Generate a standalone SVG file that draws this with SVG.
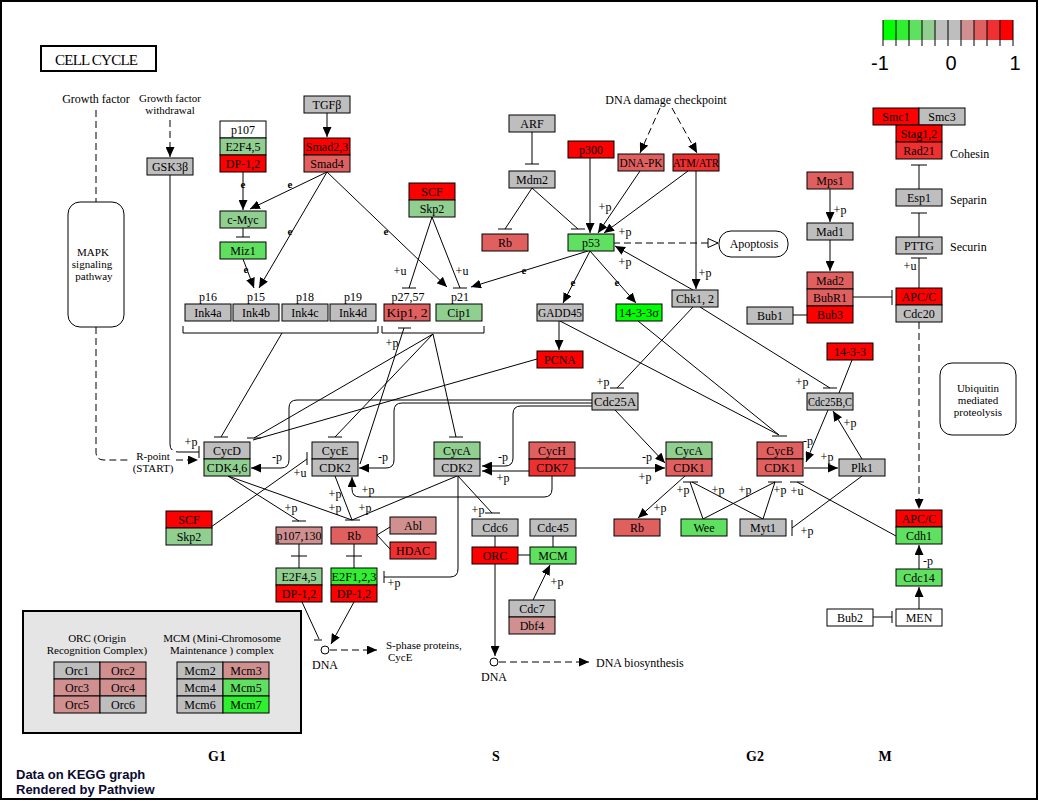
<svg xmlns="http://www.w3.org/2000/svg" width="1039" height="801" viewBox="0 0 1039 801">
<style>
.n{stroke:#000;stroke-width:1}
.t{font-family:"Liberation Serif",serif;font-size:12px;text-anchor:middle;fill:#000}
.l{font-family:"Liberation Serif",serif;font-size:12px;fill:#000}
.m{font-family:"Liberation Serif",serif;font-size:12px;fill:#000;text-anchor:middle}
.s{font-family:"Liberation Serif",serif;font-size:11px;fill:#000;text-anchor:middle}
.c path{fill:none;stroke:#000;stroke-width:1}
.c path.d{stroke-dasharray:7,4}
.e{font-family:"Liberation Serif",serif;font-size:11px;font-weight:bold;text-anchor:middle;fill:#000}
.ph{font-family:"Liberation Serif",serif;font-size:14px;font-weight:bold;text-anchor:middle}
.g0{fill:#00FF00}.g1{fill:#30EE30}.g2{fill:#60E060}.g3{fill:#90CF90}.gy{fill:#BEBEBE}
.r1{fill:#D09090}.r2{fill:#E06060}.r3{fill:#EE3030}.r4{fill:#FF0000}.w{fill:#FFFFFF}
</style>
<defs>
<marker id="a" markerUnits="userSpaceOnUse" markerWidth="10" markerHeight="9" refX="10" refY="4.5" orient="auto"><path d="M0,0L10,4.5L0,9z" fill="#000"/></marker>
<marker id="o" markerUnits="userSpaceOnUse" markerWidth="12" markerHeight="11" refX="11" refY="5.5" orient="auto"><path d="M1,1L11,5.5L1,10z" fill="#fff" stroke="#000"/></marker>
</defs>
<rect x="0" y="0" width="1039" height="801" fill="#fff"/>
<rect x="1" y="1" width="1036" height="798" fill="none" stroke="#000" stroke-width="2"/>

<g id="title"><rect x="41" y="46" width="115" height="25" fill="#fff" stroke="#000" stroke-width="2"/><text x="55" y="65" style="font-family:'Liberation Serif',serif;font-size:15px" textLength="83">CELL CYCLE</text></g>

<g id="legend">
<rect x="883" y="20" width="13" height="20" fill="#00FF00"/><rect x="896" y="20" width="13" height="20" fill="#30EE30"/><rect x="909" y="20" width="13" height="20" fill="#60E060"/><rect x="922" y="20" width="13" height="20" fill="#90CF90"/><rect x="935" y="20" width="13" height="20" fill="#BEBEBE"/><rect x="948" y="20" width="13" height="20" fill="#BEBEBE"/><rect x="961" y="20" width="13" height="20" fill="#D09090"/><rect x="974" y="20" width="13" height="20" fill="#E06060"/><rect x="987" y="20" width="13" height="20" fill="#EE3030"/><rect x="1000" y="20" width="13" height="20" fill="#FF0000"/>
<path d="M883,20V46M896,20V46M909,20V46M922,20V46M935,20V46M948,20V46M961,20V46M974,20V46M987,20V46M1000,20V46M1013,20V46" stroke="#000" stroke-width="1"/>
<text x="880" y="70" font-family="Liberation Sans,sans-serif" font-size="20" text-anchor="middle">-1</text>
<text x="951" y="70" font-family="Liberation Sans,sans-serif" font-size="20" text-anchor="middle">0</text>
<text x="1015" y="70" font-family="Liberation Sans,sans-serif" font-size="20" text-anchor="middle">1</text>
</g>

<g id="connectors" class="c">
<path class="d" d="M96,110V202"/>
<path class="d" d="M170,120V157" marker-end="url(#a)"/>
<path class="d" d="M96,327V452Q96,460 104,460H130"/>
<path class="d" d="M176,460H198" marker-end="url(#a)"/>
<path d="M170,175V444Q170,452 178,452H199M199,446V458"/>
<path d="M327,113V137" marker-end="url(#a)"/>
<path d="M243,172V210" marker-end="url(#a)"/>
<path d="M327,172L250,209" marker-end="url(#a)"/>
<path d="M243,227V237M236,237H250"/>
<path d="M243,259L254,288" marker-end="url(#a)"/>
<path d="M327,172L259,288" marker-end="url(#a)"/>
<path d="M327,172L447,287" marker-end="url(#a)"/>
<path d="M432,217L409,288M402,288H416"/>
<path d="M432,217L460,288M453,288H467"/>
<path d="M588,251L471,287" marker-end="url(#a)"/>
<path d="M532,132V164M525,164H539"/>
<path d="M532,188L505,229M498,229H512"/>
<path d="M532,188L578,229M571,229H585"/>
<path d="M590,158V233" marker-end="url(#a)"/>
<path d="M640,171L598,233" marker-end="url(#a)"/>
<path d="M688,171L604,233" marker-end="url(#a)"/>
<path class="d" d="M660,108L640,153" marker-end="url(#a)"/>
<path class="d" d="M672,108L697,153" marker-end="url(#a)"/>
<path d="M696,171V289" marker-end="url(#a)"/>
<path d="M693,290L615,246" marker-end="url(#a)"/>
<path class="d" d="M613,243H718" marker-end="url(#o)"/>
<path d="M590,251L563,303" marker-end="url(#a)"/>
<path d="M590,251L636,303" marker-end="url(#a)"/>
<path d="M559,321V350" marker-end="url(#a)"/>
<path d="M560,321L779,435M638,321L779,435M772,436H787"/>
<path d="M693,307L617,388M610,388H624"/>
<path d="M700,307L830,388M823,388H837"/>
<path d="M852,360L839,393"/>
<path d="M537,359L253,440"/>
<path d="M183,326V333H378V326M382,326V333H484V326"/>
<path d="M282,333L221,437M214,437H228"/>
<path d="M433,334L254,438M247,438H261"/>
<path d="M433,334L335,437M328,437H342"/>
<path d="M433,334L456,437M449,437H463"/>
<path d="M360,464L404,328M398,328H411"/>
<path d="M592,400H297Q289,400 289,408V460Q289,468 281,468H251" marker-end="url(#a)"/>
<path d="M592,403H402Q394,403 394,411V460Q394,468 386,468H359" marker-end="url(#a)"/>
<path d="M592,406H521Q513,406 513,414V458Q513,466 505,466H482" marker-end="url(#a)"/>
<path d="M615,410L665,463" marker-end="url(#a)"/>
<path d="M529,471H482" marker-end="url(#a)"/>
<path d="M575,468H665" marker-end="url(#a)"/>
<path d="M552,476V489Q552,497 544,497H360Q352,497 352,489V477" marker-end="url(#a)"/>
<path d="M211,527L307,459M307,452V465"/>
<path d="M228,476L299,521M292,521H306"/>
<path d="M228,476L352,520M335,476L352,520M457,476L352,520M345,520H360"/>
<path d="M458,476L492,513M485,513H500"/>
<path d="M458,476V569Q458,577 450,577H384M384,571V583"/>
<path d="M377,535L390,527M377,535L390,549"/>
<path d="M299,544V568M291,556H307"/>
<path d="M354,544V568M346,556H362"/>
<path d="M302,602L319,639M314,640H322"/>
<path d="M354,602L331,644" marker-end="url(#a)"/>
<path class="d" d="M330,650H377" marker-end="url(#a)"/>
<path d="M495,564V656" marker-end="url(#a)"/>
<path class="d" d="M499,662H589" marker-end="url(#a)"/>
<path d="M495,536V547M553,536V547M518,555H530"/>
<path d="M533,600L550,565" marker-end="url(#a)"/>
<path d="M685,476L638,518" marker-end="url(#a)"/>
<path d="M703,519L690,482M763,519L692,482M683,482H698"/>
<path d="M703,519L775,482M763,519L775,482M768,482H782"/>
<path d="M896,536L797,482M790,482H804"/>
<path d="M804,468H838" marker-end="url(#a)"/>
<path d="M862,459L833,411" marker-end="url(#a)"/>
<path d="M828,410L806,462" marker-end="url(#a)"/>
<path d="M862,476L792,528M792,520V536"/>
<path class="d" d="M919,322V509" marker-end="url(#a)"/>
<path d="M919,569V545" marker-end="url(#a)"/>
<path d="M919,609V587" marker-end="url(#a)"/>
<path d="M873,617H892M892,611V623"/>
<path d="M919,189V165M911,165H927"/>
<path d="M919,237V213M911,213H927"/>
<path d="M919,288V258M911,258H927"/>
<path d="M853,297H892M892,290V305"/>
<path d="M792,315H807"/>
<path d="M830,239V271" marker-end="url(#a)"/>
<path d="M830,189V222" marker-end="url(#a)"/>
<circle cx="325" cy="650" r="4" fill="#fff" stroke="#000"/>
<circle cx="494" cy="662" r="4" fill="#fff" stroke="#000"/>
</g>

<g id="edge-labels">
<text class="e" x="243" y="188">e</text><text class="e" x="290" y="188">e</text><text class="e" x="246" y="273">e</text><text class="e" x="290" y="235">e</text><text class="e" x="386" y="235">e</text><text class="e" x="524" y="274">e</text><text class="e" x="573" y="286">e</text><text class="e" x="617" y="286">e</text>
<text class="m" x="605" y="211">+p</text><text class="m" x="625" y="236">+p</text><text class="m" x="625" y="266">+p</text><text class="m" x="705" y="277">+p</text><text class="m" x="840" y="214">+p</text><text class="m" x="603" y="386">+p</text><text class="m" x="802" y="386">+p</text><text class="m" x="392" y="347">+p</text><text class="m" x="191" y="446">+p</text><text class="m" x="291" y="512">+p</text><text class="m" x="335" y="498">+p</text><text class="m" x="335" y="512">+p</text><text class="m" x="365" y="512">+p</text><text class="m" x="368" y="494">+p</text><text class="m" x="478" y="514">+p</text><text class="m" x="394" y="587">+p</text><text class="m" x="503" y="482">+p</text><text class="m" x="645" y="481">+p</text><text class="m" x="557" y="586">+p</text><text class="m" x="660" y="512">+p</text><text class="m" x="683" y="494">+p</text><text class="m" x="718" y="494">+p</text><text class="m" x="745" y="494">+p</text><text class="m" x="780" y="494">+p</text><text class="m" x="827" y="461">+p</text><text class="m" x="850" y="427">+p</text><text class="m" x="807" y="535">+p</text>
<text class="m" x="277" y="461">-p</text><text class="m" x="383" y="461">-p</text><text class="m" x="503" y="461">-p</text><text class="m" x="647" y="461">-p</text><text class="m" x="808" y="445">-p</text><text class="m" x="928" y="565">-p</text>
<text class="m" x="400" y="275">+u</text><text class="m" x="462" y="275">+u</text><text class="m" x="300" y="477">+u</text><text class="m" x="910" y="270">+u</text><text class="m" x="797" y="495">+u</text>
</g>

<g id="texts">
<text class="m" x="96" y="103">Growth factor</text>
<text class="s" x="170" y="102">Growth factor</text><text class="s" x="170" y="114">withdrawal</text>
<text class="m" x="666" y="104">DNA damage checkpoint</text>
<text class="l" x="950" y="158">Cohesin</text><text class="l" x="950" y="204">Separin</text><text class="l" x="950" y="251">Securin</text>
<rect x="130" y="450" width="46" height="24" fill="#fff"/>
<text class="s" x="153" y="460">R-point</text><text class="s" x="153" y="472">(START)</text>
<text class="m" x="208" y="301">p16</text><text class="m" x="256" y="301">p15</text><text class="m" x="305" y="301">p18</text><text class="m" x="353" y="301">p19</text>
<text class="m" x="408" y="301">p27,57</text><text class="m" x="460" y="301">p21</text>
<text class="s" x="386" y="649" style="text-anchor:start">S-phase proteins,</text><text class="s" x="388" y="661" style="text-anchor:start">CycE</text>
<text class="l" x="596" y="667">DNA biosynthesis</text>
<text class="m" x="325" y="669">DNA</text><text class="m" x="494" y="681">DNA</text>
<text class="ph" x="217" y="761">G1</text><text class="ph" x="496" y="761">S</text><text class="ph" x="755" y="761">G2</text><text class="ph" x="885" y="761">M</text>
<text x="16" y="779" font-family="Liberation Sans,sans-serif" font-size="13" font-weight="bold" fill="#0a0a30">Data on KEGG graph</text>
<text x="16" y="794" font-family="Liberation Sans,sans-serif" font-size="13" font-weight="bold" fill="#0a0a30">Rendered by Pathview</text>
</g>

<g id="mapk"><rect x="68" y="202" width="56" height="125" rx="12" fill="#fff" stroke="#000"/><text class="s" x="93" y="256">MAPK</text><text class="s" x="92" y="268">signaling</text><text class="s" x="94" y="280">pathway</text></g>
<g id="apoptosis"><rect x="719" y="231" width="69" height="26" rx="12" fill="#fff" stroke="#000"/><text class="m" x="754" y="248">Apoptosis</text></g>
<g id="ubiquitin"><rect x="940" y="363" width="76" height="72" rx="12" fill="#fff" stroke="#000"/><text class="s" x="978" y="392">Ubiquitin</text><text class="s" x="978" y="404">mediated</text><text class="s" x="978" y="416">proteolysis</text></g>

<g id="tgfb"><rect class="n gy" x="304" y="96" width="46" height="17"/><text class="t" x="327" y="109">TGFβ</text></g>
<g id="smad"><rect class="n r4" x="304" y="138" width="46" height="17"/><rect class="n r2" x="304" y="155" width="46" height="17"/><text class="t" x="327" y="151">Smad2,3</text><text class="t" x="327" y="168">Smad4</text></g>
<g id="p107-e2f45-top"><rect class="n w" x="220" y="121" width="46" height="17"/><rect class="n g3" x="220" y="138" width="46" height="17"/><rect class="n r4" x="220" y="155" width="46" height="17"/><text class="t" x="243" y="134">p107</text><text class="t" x="243" y="151">E2F4,5</text><text class="t" x="243" y="168">DP-1,2</text></g>
<g id="gsk3b"><rect class="n gy" x="147" y="158" width="46" height="17"/><text class="t" x="170" y="171">GSK3β</text></g>
<g id="cmyc"><rect class="n g3" x="220" y="211" width="46" height="17"/><text class="t" x="243" y="224">c-Myc</text></g>
<g id="miz1"><rect class="n g2" x="220" y="242" width="46" height="17"/><text class="t" x="243" y="255">Miz1</text></g>
<g id="scf-skp2-top"><rect class="n r4" x="409" y="183" width="46" height="17"/><rect class="n g3" x="409" y="200" width="46" height="17"/><text class="t" x="432" y="196">SCF</text><text class="t" x="432" y="213">Skp2</text></g>
<g id="arf"><rect class="n gy" x="509" y="115" width="46" height="17"/><text class="t" x="532" y="128">ARF</text></g>
<g id="mdm2"><rect class="n gy" x="509" y="171" width="46" height="17"/><text class="t" x="532" y="184">Mdm2</text></g>
<g id="p300"><rect class="n r4" x="568" y="141" width="46" height="17"/><text class="t" x="591" y="154">p300</text></g>
<g id="dnapk"><rect class="n r2" x="618" y="154" width="46" height="17"/><text class="t" x="641" y="167" textLength="43" lengthAdjust="spacingAndGlyphs">DNA-PK</text></g>
<g id="atmatr"><rect class="n r3" x="673" y="154" width="46" height="17"/><text class="t" x="696" y="167" textLength="46" lengthAdjust="spacingAndGlyphs">ATM/ATR</text></g>
<g id="rb-top"><rect class="n r2" x="482" y="234" width="46" height="17"/><text class="t" x="505" y="247">Rb</text></g>
<g id="p53"><rect class="n g2" x="568" y="234" width="46" height="17"/><text class="t" x="591" y="247">p53</text></g>
<g id="ink4a"><rect class="n gy" x="185" y="304" width="46" height="17"/><text class="t" x="208" y="317">Ink4a</text></g>
<g id="ink4b"><rect class="n gy" x="233" y="304" width="46" height="17"/><text class="t" x="256" y="317">Ink4b</text></g>
<g id="ink4c"><rect class="n gy" x="282" y="304" width="46" height="17"/><text class="t" x="305" y="317">Ink4c</text></g>
<g id="ink4d"><rect class="n gy" x="330" y="304" width="46" height="17"/><text class="t" x="353" y="317">Ink4d</text></g>
<g id="kip12"><rect class="n r2" x="384" y="304" width="46" height="17"/><text class="t" x="407" y="317" textLength="41" lengthAdjust="spacingAndGlyphs">Kip1, 2</text></g>
<g id="cip1"><rect class="n g3" x="436" y="304" width="46" height="17"/><text class="t" x="459" y="317">Cip1</text></g>
<g id="gadd45"><rect class="n gy" x="537" y="304" width="46" height="17"/><text class="t" x="560" y="317" textLength="44" lengthAdjust="spacingAndGlyphs">GADD45</text></g>
<g id="s1433sigma"><rect class="n g0" x="616" y="304" width="46" height="17"/><text class="t" x="639" y="317" textLength="40" lengthAdjust="spacingAndGlyphs">14-3-3σ</text></g>
<g id="chk12"><rect class="n gy" x="672" y="290" width="46" height="17"/><text class="t" x="695" y="303">Chk1, 2</text></g>
<g id="pcna"><rect class="n r4" x="537" y="351" width="46" height="17"/><text class="t" x="560" y="364">PCNA</text></g>
<g id="cdc25a"><rect class="n gy" x="592" y="393" width="46" height="17"/><text class="t" x="615" y="406" textLength="42" lengthAdjust="spacingAndGlyphs">Cdc25A</text></g>
<g id="mps1"><rect class="n r2" x="807" y="172" width="46" height="17"/><text class="t" x="830" y="185">Mps1</text></g>
<g id="mad1"><rect class="n gy" x="807" y="223" width="46" height="17"/><text class="t" x="830" y="236">Mad1</text></g>
<g id="mad2-bubr1-bub3"><rect class="n r2" x="807" y="272" width="46" height="17"/><rect class="n r2" x="807" y="289" width="46" height="17"/><rect class="n r4" x="807" y="306" width="46" height="17"/><text class="t" x="830" y="285">Mad2</text><text class="t" x="830" y="302">BubR1</text><text class="t" x="830" y="319">Bub3</text></g>
<g id="bub1"><rect class="n gy" x="747" y="307" width="46" height="17"/><text class="t" x="770" y="320">Bub1</text></g>
<g id="cohesin"><rect class="n r4" x="873" y="108" width="46" height="17"/><rect class="n gy" x="919" y="108" width="46" height="17"/><rect class="n r4" x="896" y="125" width="46" height="17"/><rect class="n r3" x="896" y="142" width="46" height="17"/><text class="t" x="896" y="121">Smc1</text><text class="t" x="942" y="121">Smc3</text><text class="t" x="919" y="138">Stag1,2</text><text class="t" x="919" y="155">Rad21</text></g>
<g id="esp1"><rect class="n gy" x="896" y="189" width="46" height="17"/><text class="t" x="919" y="202">Esp1</text></g>
<g id="pttg"><rect class="n gy" x="896" y="237" width="46" height="17"/><text class="t" x="919" y="250">PTTG</text></g>
<g id="apc-cdc20"><rect class="n r4" x="896" y="288" width="46" height="17"/><rect class="n gy" x="896" y="305" width="46" height="17"/><text class="t" x="919" y="301">APC/C</text><text class="t" x="919" y="318">Cdc20</text></g>
<g id="s1433"><rect class="n r4" x="827" y="343" width="46" height="17"/><text class="t" x="850" y="356">14-3-3</text></g>
<g id="cdc25bc"><rect class="n gy" x="807" y="393" width="46" height="17"/><text class="t" x="830" y="406" textLength="44" lengthAdjust="spacingAndGlyphs">Cdc25B,C</text></g>
<g id="cycd-cdk46"><rect class="n gy" x="204" y="442" width="46" height="17"/><rect class="n g3" x="204" y="459" width="46" height="17"/><text class="t" x="227" y="455">CycD</text><text class="t" x="227" y="472">CDK4,6</text></g>
<g id="cyce-cdk2"><rect class="n gy" x="312" y="442" width="46" height="17"/><rect class="n gy" x="312" y="459" width="46" height="17"/><text class="t" x="335" y="455">CycE</text><text class="t" x="335" y="472">CDK2</text></g>
<g id="cyca-cdk2"><rect class="n g3" x="434" y="442" width="46" height="17"/><rect class="n gy" x="434" y="459" width="46" height="17"/><text class="t" x="457" y="455">CycA</text><text class="t" x="457" y="472">CDK2</text></g>
<g id="cych-cdk7"><rect class="n r2" x="529" y="442" width="46" height="17"/><rect class="n r3" x="529" y="459" width="46" height="17"/><text class="t" x="552" y="455">CycH</text><text class="t" x="552" y="472">CDK7</text></g>
<g id="cyca-cdk1"><rect class="n g3" x="666" y="442" width="46" height="17"/><rect class="n r2" x="666" y="459" width="46" height="17"/><text class="t" x="689" y="455">CycA</text><text class="t" x="689" y="472">CDK1</text></g>
<g id="cycb-cdk1"><rect class="n r2" x="757" y="442" width="46" height="17"/><rect class="n r2" x="757" y="459" width="46" height="17"/><text class="t" x="780" y="455">CycB</text><text class="t" x="780" y="472">CDK1</text></g>
<g id="plk1"><rect class="n gy" x="839" y="459" width="46" height="17"/><text class="t" x="862" y="472">Plk1</text></g>
<g id="scf-skp2-low"><rect class="n r4" x="166" y="511" width="46" height="17"/><rect class="n g3" x="166" y="528" width="46" height="17"/><text class="t" x="189" y="524">SCF</text><text class="t" x="189" y="541">Skp2</text></g>
<g id="p107130"><rect class="n r1" x="276" y="527" width="46" height="17"/><text class="t" x="299" y="540" textLength="45" lengthAdjust="spacingAndGlyphs">p107,130</text></g>
<g id="rb-left"><rect class="n r2" x="331" y="527" width="46" height="17"/><text class="t" x="354" y="540">Rb</text></g>
<g id="abl"><rect class="n r1" x="390" y="517" width="46" height="17"/><text class="t" x="413" y="530">Abl</text></g>
<g id="hdac"><rect class="n r3" x="390" y="542" width="46" height="17"/><text class="t" x="413" y="555">HDAC</text></g>
<g id="e2f45-dp"><rect class="n g3" x="276" y="568" width="46" height="17"/><rect class="n r4" x="276" y="585" width="46" height="17"/><text class="t" x="299" y="581">E2F4,5</text><text class="t" x="299" y="598">DP-1,2</text></g>
<g id="e2f123-dp"><rect class="n g1" x="331" y="568" width="46" height="17"/><rect class="n r4" x="331" y="585" width="46" height="17"/><text class="t" x="354" y="581" textLength="45" lengthAdjust="spacingAndGlyphs">E2F1,2,3</text><text class="t" x="354" y="598">DP-1,2</text></g>
<g id="cdc6"><rect class="n gy" x="472" y="519" width="46" height="17"/><text class="t" x="495" y="532">Cdc6</text></g>
<g id="cdc45"><rect class="n gy" x="530" y="519" width="46" height="17"/><text class="t" x="553" y="532">Cdc45</text></g>
<g id="orc"><rect class="n r4" x="472" y="547" width="46" height="17"/><text class="t" x="495" y="560">ORC</text></g>
<g id="mcm"><rect class="n g2" x="530" y="547" width="46" height="17"/><text class="t" x="553" y="560">MCM</text></g>
<g id="cdc7-dbf4"><rect class="n gy" x="509" y="600" width="46" height="17"/><rect class="n r1" x="509" y="617" width="46" height="17"/><text class="t" x="532" y="613">Cdc7</text><text class="t" x="532" y="630">Dbf4</text></g>
<g id="rb-right"><rect class="n r2" x="614" y="519" width="46" height="17"/><text class="t" x="637" y="532">Rb</text></g>
<g id="wee"><rect class="n g2" x="681" y="519" width="46" height="17"/><text class="t" x="704" y="532">Wee</text></g>
<g id="myt1"><rect class="n gy" x="740" y="519" width="46" height="17"/><text class="t" x="763" y="532">Myt1</text></g>
<g id="apc-cdh1"><rect class="n r4" x="896" y="510" width="46" height="17"/><rect class="n g2" x="896" y="527" width="46" height="17"/><text class="t" x="919" y="523">APC/C</text><text class="t" x="919" y="540">Cdh1</text></g>
<g id="cdc14"><rect class="n g2" x="896" y="569" width="46" height="17"/><text class="t" x="919" y="582">Cdc14</text></g>
<g id="bub2"><rect class="n w" x="827" y="609" width="46" height="17"/><text class="t" x="850" y="622">Bub2</text></g>
<g id="men"><rect class="n w" x="896" y="609" width="46" height="17"/><text class="t" x="919" y="622">MEN</text></g>

<g id="complex-legend">
<rect x="23" y="611" width="278" height="122" fill="#E5E5E5" stroke="#000" stroke-width="2"/>
<text class="s" x="97" y="642">ORC (Origin</text><text class="s" x="97" y="654">Recognition Complex)</text>
<text class="s" x="222" y="642">MCM (Mini-Chromosome</text><text class="s" x="222" y="654">Maintenance ) complex</text>
<g id="orc-grid">
<rect class="n gy" x="54" y="662" width="46" height="17"/><rect class="n r1" x="100" y="662" width="46" height="17"/>
<rect class="n r1" x="54" y="679" width="46" height="17"/><rect class="n r1" x="100" y="679" width="46" height="17"/>
<rect class="n r1" x="54" y="696" width="46" height="17"/><rect class="n gy" x="100" y="696" width="46" height="17"/>
<text class="t" x="77" y="675">Orc1</text><text class="t" x="123" y="675">Orc2</text><text class="t" x="77" y="692">Orc3</text><text class="t" x="123" y="692">Orc4</text><text class="t" x="77" y="709">Orc5</text><text class="t" x="123" y="709">Orc6</text>
</g>
<g id="mcm-grid">
<rect class="n gy" x="177" y="662" width="46" height="17"/><rect class="n r1" x="223" y="662" width="46" height="17"/>
<rect class="n gy" x="177" y="679" width="46" height="17"/><rect class="n g2" x="223" y="679" width="46" height="17"/>
<rect class="n gy" x="177" y="696" width="46" height="17"/><rect class="n g1" x="223" y="696" width="46" height="17"/>
<text class="t" x="200" y="675">Mcm2</text><text class="t" x="246" y="675">Mcm3</text><text class="t" x="200" y="692">Mcm4</text><text class="t" x="246" y="692">Mcm5</text><text class="t" x="200" y="709">Mcm6</text><text class="t" x="246" y="709">Mcm7</text>
</g>
</g>
</svg>
